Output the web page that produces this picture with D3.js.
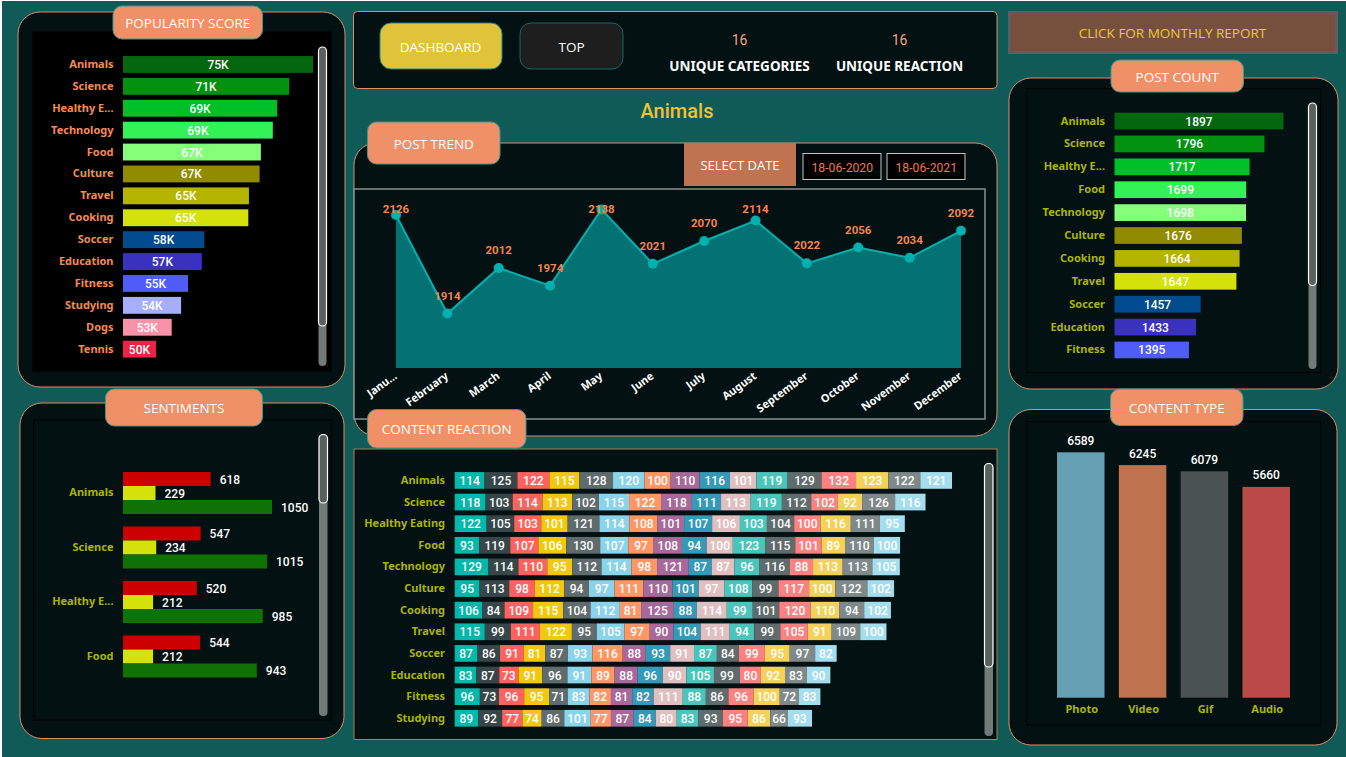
<!DOCTYPE html>
<html>
<head>
<meta charset="utf-8">
<script src="https://cdn.jsdelivr.net/npm/d3@7"></script>
<style>
  html, body { margin: 0; background: #fff; overflow: hidden; }
  svg { display: block; }
  .ui { font-family: "Open Sans", sans-serif; fill: #fff; text-anchor: middle; }
  .cat { font-family: "Noto Sans", sans-serif; font-weight: 700; font-size: 11px; }
  .num { font-family: "Roboto", sans-serif; font-weight: 500; font-size: 12px; fill: #fff; }
</style>
</head>
<body>
<svg id="chart" width="1346" height="757"></svg>
<script>
/* values */
const popularCats = ["Animals","Science","Healthy Eating","Technology","Food","Culture","Travel","Cooking","Soccer","Education","Fitness","Studying","Dogs","Tennis"];
const popularVals = [75.0,71.2,69.3,68.6,66.7,66.5,64.8,64.7,57.7,57.3,55.1,54.0,52.5,50.0];

const postCats = ["Animals","Science","Healthy Eating","Food","Technology","Culture","Cooking","Travel","Soccer","Education","Fitness"];
const postVals = [1897,1796,1717,1699,1698,1676,1664,1647,1457,1433,1395];

const rankColors = ["#04660e","#03920f","#00c028","#33f255","#85ff7a","#908b00","#b5b400","#d5e10a","#014b8e","#3a32bf","#505cf8","#a8aefe","#f992a8","#ee2146"];

const sentCats = ["Animals","Science","Healthy Eating","Food"];
const sentKeys = ["negative","neutral","positive"];
const sentNegative = [618,547,520,544];
const sentNeutral = [229,234,212,212];
const sentPositive = [1050,1015,985,943];
const sentColors = ["#cc0000","#d5e10a","#0e7204"];

const months = ["January","February","March","April","May","June","July","August","September","October","November","December"];
const trendVals = [2126,1914,2012,1974,2138,2021,2070,2114,2022,2056,2034,2092];

const reactCats = ["Animals","Science","Healthy Eating","Food","Technology","Culture","Cooking","Travel","Soccer","Education","Fitness","Studying"];
const reactRows = [
  [114,125,122,115,128,120,100,110,116,101,119,129,132,123,122,121],
  [118,103,114,113,102,115,122,118,111,113,119,112,102,92,126,116],
  [122,105,103,101,121,114,108,101,107,106,103,104,100,116,111,95],
  [93,119,107,106,130,107,97,108,94,100,123,115,101,89,110,100],
  [129,114,110,95,112,114,98,121,87,87,96,116,88,113,113,105],
  [95,113,98,112,94,97,111,110,101,97,108,99,117,100,122,102],
  [106,84,109,115,104,112,81,125,88,114,99,101,120,110,94,102],
  [115,99,111,122,95,105,97,90,104,111,94,99,105,91,109,100],
  [87,86,91,81,87,93,116,88,93,91,87,84,99,95,97,82],
  [83,87,73,91,96,91,89,88,96,90,105,99,80,92,83,90],
  [96,73,96,95,71,83,82,81,82,111,88,86,96,100,72,83],
  [89,92,77,74,86,101,77,87,84,80,83,93,95,86,66,93]
];
const reactColors = ["#01b8aa","#374649","#fd625e","#f2c80f","#5f6b6d","#8ad4eb","#fe9666","#a66999","#3599b8","#dfbfbf","#4ac5bb","#5f6b6d","#fb8281","#f4d25a","#7f898a","#a4ddee"];

const typeCats = ["Photo","Video","Gif","Audio"];
const typeVals = [6589,6245,6079,5660];
const typeColors = ["#66a0b4","#bf724e","#4a5254","#bc4a48"];

const PANEL = "#031113", EDGE = "#d98e66", TAB = "#ef9066";
const ORANGE = "#f98a52", OLIVE = "#adb400";

const svg = d3.select("#chart");
svg.append("rect").attr("x", 2).attr("y", 1).attr("width", 1344).attr("height", 756).attr("fill", "#105b58");

function panel(x0, y0, x1, y1, r) {
  svg.append("rect").attr("x", x0).attr("y", y0).attr("width", x1 - x0).attr("height", y1 - y0)
    .attr("rx", r).attr("fill", PANEL).attr("stroke", EDGE).attr("stroke-width", 1);
}
function inner(x0, y0, x1, y1, fill) {
  svg.append("rect").attr("x", x0).attr("y", y0).attr("width", x1 - x0).attr("height", y1 - y0)
    .attr("fill", fill).attr("stroke", "#000");
}
function tab(x0, y0, x1, y1, label) {
  svg.append("rect").attr("x", x0).attr("y", y0).attr("width", x1 - x0).attr("height", y1 - y0)
    .attr("rx", 9).attr("fill", TAB).attr("stroke", "#3d9a90");
  svg.append("text").attr("class", "ui").attr("x", (x0 + x1) / 2).attr("y", (y0 + y1) / 2 + 5.5)
    .attr("font-size", 13.5).text(label);
}
function scrollbar(x0, x1, y0, y1, thumbEnd) {
  svg.append("rect").attr("x", x0).attr("y", y0).attr("width", x1 - x0).attr("height", y1 - y0)
    .attr("rx", 4).attr("fill", "#707a79");
  svg.append("rect").attr("x", x0).attr("y", y0).attr("width", x1 - x0).attr("height", thumbEnd - y0)
    .attr("rx", 4).attr("fill", "#596160").attr("stroke", "#fff").attr("stroke-width", 1.2);
}
function shortName(d) {
  return d === "Healthy Eating" ? "Healthy E..." : d;
}
function catAxis(scale, x, color, fmt) {
  const g = svg.append("g").attr("transform", `translate(${x},0)`)
    .call(d3.axisLeft(scale).tickSize(0).tickPadding(0).tickFormat(fmt || shortName));
  g.select(".domain").remove();
  g.selectAll("text").attr("class", "cat").attr("fill", color);
}
// horizontal ranked bars with a centred value label
function rankedBars(cats, vals, xs, ys, x0, fmt) {
  const g = svg.append("g");
  g.selectAll("rect").data(vals).join("rect")
    .attr("x", x0).attr("y", (d, i) => ys(cats[i]))
    .attr("width", d => xs(d) - x0).attr("height", ys.bandwidth())
    .attr("fill", (d, i) => rankColors[i]);
  g.selectAll("text").data(vals).join("text").attr("class", "num")
    .attr("x", d => (x0 + xs(d)) / 2).attr("y", (d, i) => ys(cats[i]) + ys.bandwidth() / 2 + 4.5)
    .attr("text-anchor", "middle").text(fmt);
}

/* popularity score */
panel(18, 12, 345, 387, 22);
inner(33, 32, 331, 371, "#000");
tab(113, 6, 262.5, 39, "POPULARITY SCORE");
const popY = d3.scaleBand().domain(popularCats).range([53.5, 360.1]).paddingInner(0.23).paddingOuter(0.115);
const popX = d3.scaleLinear().domain([44.75, 75]).range([123, 313]);
catAxis(popY, 113.5, ORANGE);
rankedBars(popularCats, popularVals, popX, popY, 123, d => Math.round(d) + "K");
scrollbar(318.5, 326.5, 47, 366, 326);

/* sentiments */
panel(20, 403, 344, 738.5, 22);
inner(33.5, 420, 331.5, 720, PANEL);
tab(105.5, 389, 262.5, 426, "SENTIMENTS");
const sentY = d3.scaleBand().domain(sentCats).range([465.5, 683.5]);
const sentSub = d3.scaleBand().domain(sentKeys).range([6.5, 48.5]);
const sentX = d3.scaleLinear().domain([0, 1050]).range([123, 272]);
catAxis(sentY, 113.5, OLIVE);
const sentRows = sentCats.map((c, i) => [sentNegative[i], sentNeutral[i], sentPositive[i]]);
const sentG = svg.append("g").selectAll("g").data(sentRows).join("g")
  .attr("transform", (d, i) => `translate(0,${sentY(sentCats[i])})`);
sentG.selectAll("rect").data(d => d).join("rect")
  .attr("x", 123).attr("y", (d, i) => sentSub(sentKeys[i]))
  .attr("width", d => sentX(d) - 123).attr("height", sentSub.bandwidth())
  .attr("fill", (d, i) => sentColors[i]);
sentG.selectAll("text").data(d => d).join("text").attr("class", "num")
  .attr("x", d => sentX(d) + 9).attr("y", (d, i) => sentSub(sentKeys[i]) + 11.5).text(d => d);
scrollbar(319, 327.5, 434.5, 716, 503);

/* top strip */
svg.append("rect").attr("x", 353.5).attr("y", 11.5).attr("width", 643.5).attr("height", 77)
  .attr("rx", 4).attr("fill", PANEL).attr("stroke", EDGE);
svg.append("rect").attr("x", 380).attr("y", 23).attr("width", 122).attr("height", 46).attr("rx", 11)
  .attr("fill", "#e0c33a").attr("stroke", "#1d8a80");
svg.append("text").attr("class", "ui").attr("x", 440.5).attr("y", 51.5).attr("font-size", 13.5).text("DASHBOARD");
svg.append("rect").attr("x", 520).attr("y", 23).attr("width", 103).attr("height", 46).attr("rx", 11)
  .attr("fill", "#1e1e1e").attr("stroke", "#0f6a65");
svg.append("text").attr("class", "ui").attr("x", 571.5).attr("y", 51.5).attr("font-size", 13.5).text("TOP");
[[739.5, "UNIQUE CATEGORIES"], [899.5, "UNIQUE REACTION"]].forEach(([x, label]) => {
  svg.append("text").attr("x", x).attr("y", 45).attr("text-anchor", "middle")
    .attr("font-family", "Roboto").attr("font-size", 14).attr("fill", "#f0a878").text("16");
  svg.append("text").attr("x", x).attr("y", 71).attr("text-anchor", "middle")
    .attr("font-family", "Noto Sans").attr("font-weight", 700).attr("font-size", 13.5).attr("fill", "#fff").text(label);
});
svg.append("text").attr("x", 677).attr("y", 118).attr("text-anchor", "middle")
  .attr("font-family", "Roboto").attr("font-weight", 500).attr("font-size", 20).attr("fill", "#e8c53a").text("Animals");

/* post trend */
panel(354, 143, 997, 436, 22);
tab(367.5, 122, 500, 164, "POST TREND");
svg.append("rect").attr("x", 684).attr("y", 143).attr("width", 112).attr("height", 43).attr("fill", "#c07350");
svg.append("text").attr("class", "ui").attr("x", 740).attr("y", 170).attr("font-size", 13).text("SELECT DATE");
svg.append("clipPath").attr("id", "dateClip").append("rect").attr("x", 803).attr("y", 153).attr("width", 70).attr("height", 27);
[[803, "18-06-2020", "url(#dateClip)"], [887, "18-06-2021", null]].forEach(([x, label, clip]) => {
  svg.append("rect").attr("x", x).attr("y", 153.5).attr("width", 78).attr("height", 26).attr("fill", "#000").attr("stroke", "#c4c4c4");
  svg.append("text").attr("x", x + 8.5).attr("y", 171.5).attr("font-family", "Roboto").attr("font-size", 12.2)
    .attr("fill", "#f0764a").attr("clip-path", clip).text(label);
});
svg.append("rect").attr("x", 354).attr("y", 189).attr("width", 631).attr("height", 230)
  .attr("fill", PANEL).attr("stroke", "#8a9090").attr("stroke-width", 1.5);

const trendX = d3.scalePoint().domain(months).range([396, 961]);
const trendY = d3.scaleLinear().domain([1797, 2138]).range([368, 209.4]);
const trendPts = months.map((m, i) => ({ m, v: trendVals[i] }));
svg.append("path").datum(trendPts).attr("fill", "#047272")
  .attr("d", d3.area().x(d => trendX(d.m)).y0(trendY(1797)).y1(d => trendY(d.v)));
svg.append("path").datum(trendPts).attr("fill", "none").attr("stroke", "#03b0b0").attr("stroke-width", 2)
  .attr("d", d3.line().x(d => trendX(d.m)).y(d => trendY(d.v)));
svg.append("g").selectAll("circle").data(trendPts).join("circle")
  .attr("cx", d => trendX(d.m)).attr("cy", d => trendY(d.v)).attr("r", 5).attr("fill", "#03b0b0");
svg.append("g").selectAll("text").data(trendPts).join("text")
  .attr("x", d => trendX(d.m)).attr("y", d => Math.max(trendY(d.v) - 18, 209) + 4)
  .attr("text-anchor", "middle").attr("font-family", "Roboto").attr("font-weight", 700)
  .attr("font-size", 11.5).attr("fill", "#f4844f").text(d => d.v);
const trendAxis = svg.append("g").attr("transform", "translate(0,369)")
  .call(d3.axisBottom(trendX).tickSize(0).tickPadding(0).tickFormat(d => d === "January" ? "Janu..." : d));
trendAxis.select(".domain").remove();
trendAxis.selectAll("text").attr("class", "cat").attr("fill", "#fff").attr("text-anchor", "end")
  .attr("dx", -4).attr("dy", "0.7em").attr("transform", "rotate(-36)");

/* content reaction */
svg.append("rect").attr("x", 354).attr("y", 449).attr("width", 643).attr("height", 290.5)
  .attr("fill", PANEL).attr("stroke", "#b07a55");
tab(367.5, 409.5, 526, 448, "CONTENT REACTION");
const reactY = d3.scaleBand().domain(reactCats).range([469.7, 729]).paddingInner(0.227).paddingOuter(0.11);
const reactX = d3.scaleLinear().domain([0, 1897]).range([454.7, 952]);
catAxis(reactY, 445, OLIVE, d => d);
const reactSeries = d3.stack().keys(d3.range(16))(reactRows);
const reactG = svg.append("g").selectAll("g").data(reactSeries).join("g");
reactG.selectAll("rect").data(d => d).join("rect")
  .attr("x", d => reactX(d[0])).attr("y", (d, i) => reactY(reactCats[i]))
  .attr("width", d => reactX(d[1]) - reactX(d[0])).attr("height", reactY.bandwidth())
  .attr("fill", function() { return reactColors[d3.select(this.parentNode).datum().key]; });
reactG.selectAll("text").data(d => d).join("text").attr("class", "num").attr("text-anchor", "middle")
  .attr("x", d => (reactX(d[0]) + reactX(d[1])) / 2).attr("y", (d, i) => reactY(reactCats[i]) + reactY.bandwidth() / 2 + 4.5)
  .text(d => d[1] - d[0]);
scrollbar(984.5, 993, 463.5, 736, 667);

/* monthly report button */
svg.append("rect").attr("x", 1009.5).attr("y", 12.5).attr("width", 327).attr("height", 40)
  .attr("fill", "#76503c").attr("stroke", "#5d5f5e").attr("stroke-width", 3);
svg.append("text").attr("class", "ui").attr("x", 1172.5).attr("y", 38).attr("font-size", 13.5)
  .style("fill", "#eec83c").text("CLICK FOR MONTHLY REPORT");

/* post count */
panel(1009, 78, 1338, 389, 22);
inner(1026.5, 88.5, 1320.5, 372.5, PANEL);
tab(1111, 60, 1243.5, 92, "POST COUNT");
const postY = d3.scaleBand().domain(postCats).range([109.7, 361.3]).paddingInner(0.27).paddingOuter(0.13);
const postX = d3.scaleLinear().domain([1000, 1897]).range([1114.5, 1283.5]);
catAxis(postY, 1105, OLIVE);
rankedBars(postCats, postVals, postX, postY, 1114.5, d => d);
scrollbar(1308.5, 1316.5, 103, 369, 285.5);

/* content type */
panel(1009, 409.5, 1337, 745, 22);
inner(1026.5, 421.5, 1320.5, 725, PANEL);
tab(1110.5, 389, 1243, 425.5, "CONTENT TYPE");
const typeX = d3.scaleBand().domain(typeCats).range([1047, 1300]).paddingInner(0.232).paddingOuter(0.116 * 1.4);
const typeY = d3.scaleLinear().domain([0, 6589]).range([697.7, 452.3]);
svg.append("g").selectAll("rect").data(typeVals).join("rect")
  .attr("x", (d, i) => typeX(typeCats[i])).attr("y", d => typeY(d))
  .attr("width", typeX.bandwidth()).attr("height", d => typeY(0) - typeY(d))
  .attr("fill", (d, i) => typeColors[i]);
svg.append("g").selectAll("text").data(typeVals).join("text").attr("class", "num").attr("text-anchor", "middle")
  .attr("x", (d, i) => typeX(typeCats[i]) + typeX.bandwidth() / 2).attr("y", d => typeY(d) - 7.5).text(d => d);
const typeAxis = svg.append("g").attr("transform", "translate(1,705)").call(d3.axisBottom(typeX).tickSize(0).tickPadding(0));
typeAxis.select(".domain").remove();
typeAxis.selectAll("text").attr("class", "cat").attr("fill", OLIVE);
</script>
</body>
</html>
